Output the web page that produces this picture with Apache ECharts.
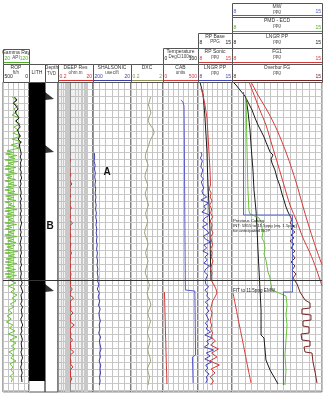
<!DOCTYPE html>
<html><head><meta charset="utf-8">
<script src="https://cdn.jsdelivr.net/npm/echarts@6/dist/echarts.min.js"></script>
<style>html,body{margin:0;padding:0;background:#fff}#c{width:325px;height:398px}</style>
</head><body><div id="c"></div>
<script>
// ================= DATA (depth in m, y down) =================
const depthMax = 3100;
const heavyDepth = 1980;
// Gamma ray (API), three sampled runs
const grTopStart = 150, grTopStep = 30;
const grTop = [55,70,58,78,62,74,55,82,66,85,62,78,58,89,55,93,51,82];
const grMidStart = 690, grMidStep = 15;
const grMid = [35,62,30,74,44,66,28,78,39,58,31,70,27,62,43,74,30,55,36,68,
  28,60,41,72,33,58,27,66,38,78,30,62,35,70,28,55,42,66,31,74,
  27,60,36,70,30,58,39,64,28,72,34,55,29,66,40,62,27,74,33,60,
  38,70,28,66,35,58,30,78,27,64,41,70,32,62,29,74,36,58,30,68,
  35,64,28,72,33,60];
const grLowStart = 1980, grLowStep = 30;
const grLow = [45,70,40,66,50,74,55,70,48,62,40,55,36,52,33,58,45,66,40,74,47,70,52,66,43,62,50,70,46,58,50,62,48,56,52];
// ROP (ft/h)
const ropStart = 150, ropStep = 30;
const ropFtH = [280,230,300,250,210,270,230,190,250,200,170,220,
  200,170,210,160,185,175,
  160,150,170,145,165,155,172,148,160,140,168,152,175,158,150,165,145,170,155,160,148,168,150,162,140,158,170,150,165,145,160,172,150,158,145,166,152,160,142,170,155,148,162,
  150,130,160,140,120,155,145,135,160,125,150,140,130,158,145,120,150,135,160,140,128,150,145,135,155,140,125,150,138,160,145,130,150,140,135];
// Lithology column and casing shoes
const lithTop = [0];
const lithBase = [2990];
const casingShoes = [180, 710, 2100];
// Deep resistivity (ohm.m)
const resStart = 90, resStep = 30;
const deepRes = [0.74,0.80,0.72,0.78,0.84,0.76,0.70,0.82,0.78,0.88,0.75,0.80,0.86,0.78,0.92,0.80,0.76,0.85,0.82,0.90,
  0.86,0.95,0.88,1.02,0.90,0.84,0.98,0.92,1.10,0.88,0.96,1.25,0.90,0.98,0.92,1.05,0.88,1.00,0.94,1.15,0.92,0.98,1.04,0.90,1.35,0.96,1.02,0.94,1.08,0.98,0.92,1.10,1.00,0.95,1.20,0.98,1.04,0.92,1.06,1.00,0.94,1.12,1.02,
  1.00,1.08,0.95,1.30,1.02,0.96,1.55,1.05,0.98,1.10,1.02,1.45,0.98,1.06,1.00,1.70,1.04,0.96,1.12,1.00,1.35,0.98,1.08,1.02,1.60,1.00,0.96,1.10,1.04,1.40,0.98,1.06,1.00,1.25,0.96,0.92];
const resGridLines = [0.3,0.4,0.5,0.6,0.7,0.8,0.9,2,3,4,5,6,7,8,9];
// Shale sonic (usec/ft)
const sonStart = 710, sonStep = 40;
const sonic = [194,192,195,190,193,189,192,188,191,187,190,186,189,185,188,184,187,183,186,182,185,181,184,180,183,179,182,178,181,177,180,176,
  178,172,180,170,176,168,174,166,172,170,165,171,167,173,164,170,166,162,168,165,171,163,167,164,169,166,170];
// DXC
const dxcStart = 150, dxcStep = 40;
const dxc = [1.30,1.24,1.18,1.26,1.32,1.22,1.16,1.28,1.45,1.50,1.38,1.26,1.20,
  1.12,1.04,1.00,1.08,1.16,1.10,1.02,0.98,1.06,1.14,1.08,1.00,1.04,1.12,1.18,1.10,1.02,1.06,1.14,1.08,1.00,0.96,1.04,1.12,1.16,1.08,1.02,1.08,1.16,1.10,1.04,1.00,1.08,
  1.16,1.24,1.18,1.10,1.16,1.26,1.32,1.22,1.14,1.20,1.30,1.24,1.16,1.12,1.20,1.28,1.22,1.14,1.18,1.26,1.30,1.20,1.12,1.18,1.24,1.20,1.16];
// Temperature and CAB
const tempDepth = [180,200,240,580,1180,1680,2080,2090,2380,2730,2750,2880,3010];
const tempDeg = [51,57,60,61,62,63,64,91,92,93,84,85,86];
const cabDepth = [2100,2200,2300,2400,2500,2600,2700,2800,2900,3020];
const cabUnits = [20,25,28,32,35,40,43,47,52,56];
// Pore pressure track (ppg)
const rpBaseDepth = [0,40,80,130,230,360,530,700,880,1030,1230,1480,1780,1980];
const rpBase = [8.41,8.62,8.82,9.03,9.24,9.44,9.65,9.85,9.95,10.06,10.26,10.47,10.57,10.68];
const rpSonicTopDepth = [60,130,230,360,530,700,880,1030];
const rpSonicTop = [8.62,9.03,9.44,9.85,10.06,10.26,10.47,10.57];
const rpSonicStart = 1070, rpSonicStep = 40;
const rpSonicLog = [10.3,10.7,10.5,10.9,10.4,10.8,10.6,11.0,10.5,10.9,10.7,11.1,10.6,10.8,11.0,10.6,10.9,10.7,11.1,10.8,10.6,10.9,10.7,
  10.8,11.3,11.7,11.9,11.5,11.0,10.8,10.6,10.9,10.7,10.5,10.8,10.6,11.0,10.7,11.6,10.6,12.2,10.8,11.9,10.4,12.4,10.7,11.5,10.5,11.2,10.6];
const lngrStart = 700, lngrStep = 30;
const lngrPP = [8.6,8.8,8.5,8.9,8.7,8.6,9.0,8.8,8.6,9.1,8.7,8.9,9.2,8.8,
  9.0,9.8,8.6,10.2,9.2,9.6,8.8,10.4,9.4,9.0,10.0,8.9,9.7,10.3,9.1,9.5,10.6,9.2,9.8,9.0,10.1,9.4,9.9,9.2,10.4,9.6,9.3,10.0,9.7,9.5,
  9.6,10.2,9.4,10.0,9.8,10.4,9.5,10.1,9.7,10.3,9.6,9.9,10.2,9.5,10.0,9.7,10.6,9.4,10.9,9.8,10.2,9.3,11.2,9.7,10.5,9.4,10.8,9.6,10.0,9.5,10.3,9.7,9.9,9.6];
// Pressure window track (ppg)
const mwDepth = [100,1330,1330,2100,2100,3030];
const mwPpg = [8.9,8.9,12.7,12.7,12.0,12.0];
const ecdDepth = [160,680,1080,1290,1320,1360,1400,1460,1500,1560,1600,1660,1720,1780,1840,1900,1960,2020,2080,2140,2230,2330,2430,2580,2730,2880,3030];
const ecdPpg = [9.09,9.17,9.24,9.32,9.40,10.10,10.26,10.33,10.41,10.33,10.49,10.57,10.49,10.64,10.72,10.80,10.96,11.03,11.11,12.20,12.28,12.20,12.28,12.20,12.12,12.20,12.12];
const ppDepth = [160,290,480,630,880,1080,1290,1480,1680,1880,2080,2280,2530,2560,2780,2880,2950,3020];
const ppPpg = [9.09,9.24,9.40,9.48,9.63,9.71,9.87,9.95,10.02,10.10,10.18,10.26,10.26,10.49,10.64,10.96,11.27,11.58];
const obDepth = [0,30,80,140,220,280,360,430,490,550,600,650,700,730,770,810,880,960,1040,1120,1180,1250,1300,1340];
const obPpg = [8.08,8.31,8.62,9.01,9.32,9.56,9.79,10.02,10.26,10.49,10.64,10.80,10.96,11.19,11.03,11.11,11.34,11.50,11.73,11.89,12.04,12.20,12.36,12.51];
const ob2Depth = [1340,1380,1410,1440,1470,1500,1530,1560,1590,1620,1660,1690,1720,1760,1800,1840,1880,1920,1960,2020,2100,2180,2210,2260,2270,2320,2330,2380,2390,2440,2450,2510,2520,2580,2590,2640,2650,2700,2710,2800,2900,3010];
const ob2Ppg = [12.51,12.67,12.51,12.82,12.59,12.90,12.59,12.82,12.51,12.82,12.59,12.90,12.67,12.90,12.59,12.90,12.67,12.98,12.74,13.06,13.29,13.68,14.07,14.07,13.44,13.44,14.14,14.14,13.52,13.52,13.99,13.99,13.37,13.44,14.07,14.07,13.60,13.68,14.22,14.30,14.46,14.61];
const fgDepth = [0,130,300,480,730,1000,1280,1480,1660,1830];
const fgPpg = [9.48,10.02,10.80,11.50,12.28,12.98,13.60,14.07,14.53,15.0];
const fg2Depth = [0,100,260,430,630,830,1030,1230,1400,1560,1710,1860,2040];
const fg2Ppg = [9.32,9.63,10.10,10.64,11.11,11.58,12.04,12.51,13.06,13.52,14.07,14.53,15.0];
const fg2WrapDepth = [2110,2260,2410,2560,2710,2860,3010];
const fg2WrapPpg = [8.08,8.31,8.54,8.78,9.01,9.24,9.48];
// Header texts
const headerTitles = ['Gamma Ray','ROP','LITH','Depth','DEEP Res','SHALSONIC','DXC','Temperature','CAB','RP Base','RP Sonic','LNGR PP','MW','PMD - ECD','LNGR PP','FG1','Overbur FG'];
const headerUnits  = ['API','ft/h','','TVD','ohm.m','usec/ft','','DegC/100m','units','PPG','ppg','ppg','ppg','ppg','ppg','ppg','ppg'];
const headerLo     = ['20','500','','','0.2','200','0.2','0','0','8','8','8','8','8','8','8','8'];
const headerHi     = ['120','0','','','20','20','2','100','500','15','15','15','15','15','15','15','15'];
const notes1 = ['Previous Casing','INT: 5855 to 11.5ppg (eq. 1.5ppg)','for anticipated BOP'];
const notes2 = 'FIT to 11.5ppg EMW';

// ================= LAYOUT =================
const FONT = 'Liberation Sans, Arial, sans-serif';
const TOP = 82, HEIGHT = 310;
const tracks = [
  {l:3,w:26,div:5},{l:29,w:16,div:0},{l:45,w:13,div:0},{l:58,w:35,div:0},
  {l:93,w:38,div:6},{l:131,w:32,div:6},{l:163,w:35,div:7},{l:198,w:34,div:7},{l:232,w:90,div:14}];
const C = {gr:'#6cbf3c', rop:'#1a1a1a', res:'#d92b2b', son:'#3f3fa8', dxc:'#a3a377', temp:'#5c5cc8',
  cab:'#d43a3a', red:'#d43a3a', blue:'#4545b8', mw:'#5060c8', ecd:'#66c23a', blk:'#1a1a1a', ob2:'#7a2222'};

const grid = tracks.map(t => ({left:t.l, top:TOP, width:t.w, height:HEIGHT, show:true, borderColor:'#555', borderWidth:1}));
const yAxis = tracks.map((t,i) => ({gridIndex:i, type:'value', min:0, max:depthMax, inverse:true, interval:70,
  axisLine:{show:false}, axisTick:{show:false}, axisLabel:{show:false},
  splitLine:{show: i!==1 && i!==2, lineStyle:{color:'#c9c9c9', width:1}}}));
const xAxis = [];
function addX(o){ xAxis.push(Object.assign({type:'value', axisLine:{show:false}, axisTick:{show:false}, axisLabel:{show:false}, splitLine:{show:false}}, o)); return xAxis.length-1; }
tracks.forEach((t,i) => { if (t.div) addX({gridIndex:i, min:0, max:t.div, interval:1, splitLine:{show:true, lineStyle:{color:'#c4c4c4', width:1}}}); });
const grAx = addX({gridIndex:0, min:20, max:120});
const ropAx = addX({gridIndex:0, min:0, max:500, inverse:true});
const lithAx = addX({gridIndex:1, min:0, max:1});
const depAx = addX({gridIndex:2, min:0, max:1});
const resAx = addX({gridIndex:3, type:'log', logBase:10, min:0.2, max:20, splitLine:{show:true, lineStyle:{color:'#999', width:1}}});
const sonAx = addX({gridIndex:4, min:20, max:200, inverse:true});
const dxcAx = addX({gridIndex:5, min:0.2, max:2});
const tempAx = addX({gridIndex:6, min:0, max:100});
const cabAx = addX({gridIndex:6, min:0, max:500});
const ppAx = addX({gridIndex:7, min:8, max:15});
const bigAx = addX({gridIndex:8, min:8, max:15});

const reg = (start, step, vals) => vals.map((v,i) => [v, start + i*step]);
const zip = (d, v) => d.map((dd,i) => [v[i], dd]);
function line(xi, yi, data, color, extra){
  return Object.assign({type:'line', xAxisIndex:xi, yAxisIndex:yi, data, symbol:'none', showSymbol:false, silent:true,
    animation:false, lineStyle:{color, width:1}, itemStyle:{color}, z:3}, extra||{});
}

const grData = reg(grTopStart, grTopStep, grTop).concat(reg(grMidStart, grMidStep, grMid), reg(grLowStart, grLowStep, grLow));
const series = [
  line(grAx, 0, grData, C.gr),
  line(ropAx, 0, reg(ropStart, ropStep, ropFtH), C.rop),
  {type:'custom', xAxisIndex:lithAx, yAxisIndex:1, silent:true, animation:false,
   data: lithTop.map((t,k) => [0, t, lithBase[k]]), encode:{x:0, y:[1,2]},
   renderItem:(p, api) => { const a = api.coord([0, api.value(1)]), b = api.coord([1, api.value(2)]);
     return {type:'rect', shape:{x:a[0], y:a[1], width:b[0]-a[0], height:b[1]-a[1]}, style:{fill:'#000'}}; }},
  {type:'scatter', xAxisIndex:lithAx, yAxisIndex:1, silent:true, animation:false, clip:false,
   data: casingShoes.map(d => [1, d]), symbol:'path://M0,0 L10,8 L0,9 Z', symbolSize:[9,8], symbolOffset:[4.5,-4],
   itemStyle:{color:'#000'}, z:4},
  line(resAx, 3, reg(resStart, resStep, deepRes), C.res, {
    markArea:{silent:true, itemStyle:{color:'rgba(0,0,0,0.06)'}, data:[[{xAxis:0.2, yAxis:0},{xAxis:10, yAxis:depthMax}]]},
    markLine:{silent:true, symbol:'none', animation:false, label:{show:false}, lineStyle:{color:'#c8c8c8', type:'solid', width:1},
      data: resGridLines.map(v => ({xAxis:v}))}}),
  line(sonAx, 4, reg(sonStart, sonStep, sonic), C.son),
  line(dxcAx, 5, reg(dxcStart, dxcStep, dxc), C.dxc),
  line(tempAx, 6, zip(tempDepth, tempDeg), C.temp),
  line(cabAx, 6, zip(cabDepth, cabUnits), C.cab),
  line(ppAx, 7, zip(rpBaseDepth, rpBase), C.blk),
  line(ppAx, 7, reg(lngrStart, lngrStep, lngrPP), C.blue),
  line(ppAx, 7, zip(rpSonicTopDepth, rpSonicTop).concat(reg(rpSonicStart, rpSonicStep, rpSonicLog)), C.red),
  line(bigAx, 8, zip(fgDepth, fgPpg), C.red, {smooth:0.3}),
  line(bigAx, 8, zip(fg2Depth, fg2Ppg), C.red, {smooth:0.3}),
  line(bigAx, 8, zip(fg2WrapDepth, fg2WrapPpg), C.red, {smooth:0.3}),
  line(bigAx, 8, zip(ppDepth, ppPpg), C.blk),
  line(bigAx, 8, zip(obDepth, obPpg), C.blk),
  line(bigAx, 8, zip(ob2Depth, ob2Ppg), C.ob2),
  line(bigAx, 8, zip(ecdDepth, ecdPpg), C.ecd),
  line(bigAx, 8, zip(mwDepth, mwPpg), C.mw)
];

const chart = echarts.init(document.getElementById('c'), null, {renderer:'canvas'});
chart.setOption({animation:false, grid, xAxis, yAxis, series});

// ---------- headers & annotations ----------
const boxes = [[3,49,29,64],[3,64,29,82],[29,64,45,82],[45,64,58,82],[58,64,93,82],[93,64,131,82],[131,64,163,82],
  [163,48,198,64],[163,64,198,82],[198,33,232,48],[198,48,232,64],[198,64,232,82],
  [232,3,322,17],[232,17,322,33],[232,33,322,48],[232,48,322,64],[232,64,322,82]];
const boxColor = ['#4caf28','#222','#222','#222',C.res,C.son,'#8f8f55','#222',C.red,'#222',C.red,C.blue,C.mw,'#55b022','#222',C.red,C.ob2];
const underline = [1,0,0,0,1,1,1,0,1,0,1,1,1,1,0,1,1];
const g = [];
boxes.forEach((b,i) => {
  const [x0,y0,x1,y1] = b, cx = (x0+x1)/2;
  g.push({type:'rect', shape:{x:x0+0.5, y:y0+0.5, width:x1-x0, height:y1-y0}, style:{fill:'#fff', stroke:'#555', lineWidth:1}, z:10});
  const onlyTitle = !headerUnits[i] && !headerLo[i];
  g.push({type:'text', x:cx, y: onlyTitle ? (y0+y1)/2 : y0+4, z:11,
    style:{text:headerTitles[i], fontSize:5, fontFamily:FONT, fill:'#333', align:'center', verticalAlign:'middle'}});
  if (headerUnits[i]) g.push({type:'text', x:cx, y:y0+(i===3?10:9), z:11,
    style:{text:headerUnits[i], fontSize:4.5, fontFamily:FONT, fill:'#444', align:'center', verticalAlign:'middle'}});
  const ry = y1 - 5;
  if (headerLo[i]) g.push({type:'text', x:x0+1.5, y:ry, z:11,
    style:{text:headerLo[i], fontSize:5, fontFamily:FONT, fill:boxColor[i], align:'left', verticalAlign:'middle'}});
  if (headerHi[i]) g.push({type:'text', x:x1-1, y:ry, z:11,
    style:{text:headerHi[i], fontSize:5, fontFamily:FONT, fill:boxColor[i], align:'right', verticalAlign:'middle'}});
  if (underline[i]) g.push({type:'line', shape:{x1:x0+1, y1:y1-1.5, x2:x1, y2:y1-1.5}, style:{stroke:boxColor[i], lineWidth:1}, z:11});
});
const yHeavy = Math.round(chart.convertToPixel({yAxisIndex:0}, heavyDepth)) + 0.5;
g.push({type:'line', shape:{x1:3, y1:yHeavy, x2:322, y2:yHeavy}, style:{stroke:'#333', lineWidth:1}, z:9});
g.push({type:'text', x:107, y:172, z:12, style:{text:'A', fontSize:10, fontWeight:'bold', fontFamily:FONT, fill:'#111', align:'center', verticalAlign:'middle'}});
g.push({type:'text', x:50, y:226, z:12, style:{text:'B', fontSize:10, fontWeight:'bold', fontFamily:FONT, fill:'#111', align:'center', verticalAlign:'middle'}});
notes1.forEach((t,k) => g.push({type:'text', x:233, y:221 + k*5, z:12,
  style:{text:t, fontSize:4.3, fontFamily:FONT, fill:'#222', align:'left', verticalAlign:'middle'}}));
g.push({type:'text', x:233, y:291, z:12, style:{text:notes2, fontSize:4.6, fontFamily:FONT, fill:'#222', align:'left', verticalAlign:'middle'}});
chart.setOption({graphic: g});
</script>
</body></html>
